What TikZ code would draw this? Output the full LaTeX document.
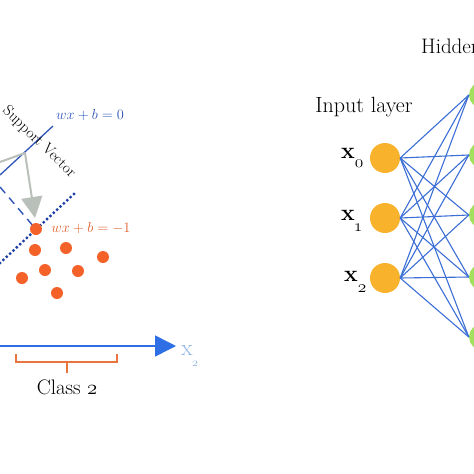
\documentclass[tikz,border=0pt]{standalone}
\usetikzlibrary{arrows.meta}
\definecolor{svmblue}{HTML}{2F55B8}
\definecolor{dotblue}{HTML}{1E3FA6}
\definecolor{axisblue}{HTML}{2E6FE6}
\definecolor{lightblue}{HTML}{8DB3E2}
\definecolor{ptorange}{HTML}{F4622A}
\definecolor{txtorange}{HTML}{E0602A}
\definecolor{brorange}{HTML}{E8743E}
\definecolor{arrgray}{HTML}{B9BFB9}
\definecolor{inorange}{HTML}{F9B22B}
\definecolor{hidgreen}{HTML}{A2E05E}
\definecolor{netblue}{HTML}{3B6FD6}
\tikzset{
  pt/.style={circle,fill=ptorange,inner sep=0pt,minimum size=12pt},
  innode/.style={circle,fill=inorange,inner sep=0pt,minimum size=30pt},
  hidnode/.style={circle,fill=hidgreen,inner sep=0pt,minimum size=26pt},
  netline/.style={draw=netblue,line width=1.1pt},
  bigtxt/.style={font=\fontsize{21}{25}\selectfont,inner sep=0pt},
  xlab/.style={font=\fontsize{23}{26}\selectfont\bfseries,inner sep=0pt},
  sublab/.style={font=\fontsize{17}{19}\selectfont,inner sep=0pt},
}
\begin{document}
\begin{tikzpicture}[x=1pt,y=-1pt]
\useasboundingbox (0,0) rectangle (474,474);
\clip (0,0) rectangle (474,474);
\fill[white] (0,0) rectangle (474,474);

% ---------- SVM part ----------
\coordinate (hA) at (0,175);
\coordinate (hB) at (53,126);
\draw[svmblue,line width=1.3pt] (hA) -- (hB);
\node[text=svmblue,font=\fontsize{14.4}{16}\selectfont,inner sep=0pt] (eq0) at (90,115) {$wx+b=0$};

\node[font=\fontsize{15.5}{17}\selectfont,rotate=-44,inner sep=0pt] (sv) at (39,142) {Support Vector};

\coordinate (gA) at (0,162);
\coordinate (gB) at (25,153);
\coordinate (gC) at (35,218);
\draw[arrgray,line width=2pt] (gA) -- (gB);
\draw[arrgray,line width=2pt,-{Triangle[length=21pt,width=21pt]}] (gB) -- (gC);

\coordinate (dA) at (0,187);
\coordinate (dB) at (34,227);
\draw[svmblue,line width=1.4pt,dash pattern=on 8pt off 6pt] (dA) -- (dB);

\coordinate (tA) at (0,263);
\coordinate (tB) at (75,193);
\draw[dotblue,line width=3.3pt,line cap=round,dash pattern=on 0pt off 4.6pt] (tA) -- (tB);

\node[pt] (p1) at (36,229) {};
\node[pt] (p2) at (35,250) {};
\node[pt] (p3) at (66,248) {};
\node[pt] (p4) at (103,257) {};
\node[pt] (p5) at (45,270) {};
\node[pt] (p6) at (78,271) {};
\node[pt] (p7) at (22,278) {};
\node[pt] (p8) at (57,293) {};

\node[text=txtorange,font=\fontsize{14.4}{16}\selectfont,inner sep=0pt] (eq1) at (91,228) {$wx+b=-1$};

\coordinate (aA) at (0,346);
\coordinate (aB) at (176,346);
\draw[axisblue,line width=1.5pt,-{Triangle[length=21pt,width=21pt]}] (aA) -- (aB);
\node[text=lightblue,font=\fontsize{23}{25}\selectfont,inner sep=0pt] (x2ax) at (187,351) {x};
\node[text=lightblue,font=\fontsize{12}{14}\selectfont,inner sep=0pt] (x2sub) at (195,364) {$\mathnormal{2}$};

\coordinate (bL) at (16,354);
\coordinate (bR) at (117,354);
\coordinate (bM) at (67,362);
\coordinate (bT) at (67,373);
\draw[brorange,line width=1.5pt] (bL) -- (16,362) -- (117,362) -- (bR);
\draw[brorange,line width=1.5pt] (bM) -- (bT);
\node[bigtxt] (cls) at (67,387) {Class $\mathnormal{2}$};

% ---------- Network part ----------
\node[font=\fontsize{22}{25}\selectfont,inner sep=0pt] (inlab) at (364,107) {Input layer};
\node[font=\fontsize{21}{24}\selectfont,inner sep=0pt,anchor=west] (hidlab) at (421,48) {Hidden layer};

\node[innode] (in0) at (385,158) {};
\node[innode] (in1) at (385,218) {};
\node[innode] (in2) at (385,278) {};

\node[hidnode] (h1) at (482,95) {};
\node[hidnode] (h2) at (482,155) {};
\node[hidnode] (h3) at (482,215) {};
\node[hidnode] (h4) at (482,277) {};
\node[hidnode] (h5) at (482,337) {};

\foreach \i in {0,1,2}{
  \foreach \j in {1,...,5}{
    \draw[netline] (in\i.east) -- (h\j.west);
  }
}

\node[xlab] (lx0) at (348,153) {x};
\node[sublab] (sx0) at (359,164) {$\mathnormal{0}$};
\node[xlab] (lx1) at (348,215) {x};
\node[sublab] (sx1) at (358,228) {$\mathnormal{1}$};
\node[xlab] (lx2) at (351,276) {x};
\node[sublab] (sx2) at (362,289) {$\mathnormal{2}$};
\end{tikzpicture}
\end{document}
